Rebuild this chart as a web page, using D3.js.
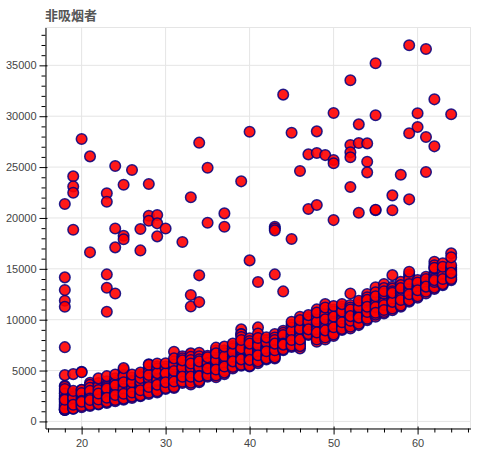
<!DOCTYPE html>
<html>
<head>
<meta charset="utf-8">
<script src="https://cdn.jsdelivr.net/npm/d3@7/dist/d3.min.js"></script>
<style>
html,body{margin:0;padding:0;background:#fff}
svg{display:block}
</style>
</head>
<body>
<svg id="chart" width="500" height="450"></svg>
<script>
const chartTitle = "非吸烟者";
const xTicks = [20, 30, 40, 50, 60];
const yTicks = [0, 5000, 10000, 15000, 20000, 25000, 30000, 35000];
const xMinorTicks = [16,18,22,24,26,28,32,34,36,38,42,44,46,48,52,54,56,58,62,64,66];
const yMinorTicks = [1000,2000,3000,4000,6000,7000,8000,9000,11000,12000,13000,14000,16000,17000,18000,19000,21000,22000,23000,24000,26000,27000,28000,29000,31000,32000,33000,34000,36000,37000,38000];

const bandAges = [18,19,20,21,22,23,24,25,26,27,28,29,30,31,32,33,34,35,36,37,38,39,40,41,42,43,44,45,46,47,48,49,50,51,52,53,54,55,56,57,58,59,60,61,62,63,64];
const bandCharges = [
 [1120,1135,1150,1190,1250,1310,1400,1480,1720,1880,2020,2130,2200,2390,2560,2730,2800,3000,3190,3400,3500,1600,2260],
 [1240,1260,1340,1450,1640,1800,1980,2130,2300,2450,2800,3000,1670,2660],
 [1390,1520,1640,1800,2020,2250,2460,2690,2800,3080,3100,1940],
 [1520,1620,1710,1910,2250,2450,2590,2800,3020,3600,3800,2100,3310],
 [1660,1730,1900,2060,2160,2400,2480,2690,3090,3460,3780,2750,4230],
 [1810,1920,2030,2150,2330,2500,2790,2900,3230,3390,3950,4450,3080,3570],
 [1980,2100,2190,2300,2600,2780,2900,3200,3550,3800,4000,4620,2430,4230],
 [2140,2240,2380,2500,2720,2900,3390,3600,3850,4440,4570,5240,3180,4170,5050],
 [2300,2440,2530,2700,2850,3000,3380,3550,3840,4000,4310,4600,3250],
 [2480,2560,2710,2900,3060,3280,3560,3750,4260,4440,4620,4800,3900],
 [2690,2820,2990,3150,3380,3560,3780,4120,4570,4850,5320,5570,4230,5610],
 [2850,2960,3200,3420,3600,3950,4240,4420,4750,5200,5420,5700,4070],
 [3200,3280,3480,3620,3850,4000,4250,4350,4730,5150,5400,5720,4660],
 [3280,3390,3560,3700,3920,4150,4450,4700,4950,5600,5900,6200,4230,5380,6850],
 [3780,3900,4050,4220,4400,4600,4760,5100,5300,5500,5800,6000,6200,6400],
 [3630,3800,4070,4220,4400,4760,4890,5150,5270,5400,5500,5700,6350,6600,4560,6030,6690],
 [3850,3980,4130,4300,4430,4720,4900,5100,5300,5480,5650,5900,6100,6400,6750,4490],
 [4400,4520,4800,5000,5200,5350,5480,5630,5750,5900,6100,6300,6450,4720],
 [4350,4520,4650,4900,5100,5300,5650,5800,6000,6200,6400,6700,7000,5480,6800,7250],
 [4650,4800,5000,5200,5400,5700,5800,6100,6400,6700,7000,7350,6200,6950],
 [5200,5350,5450,5700,5900,6100,6350,6600,6800,7100,7400,7650,7180],
 [5470,5580,5750,5900,6100,6300,6500,6800,7000,7450,7700,8000,8300,8600,9050,7180,8560],
 [5400,5480,5600,5900,6050,6200,6350,6600,6900,7100,7300,7650,7900,8160,6530],
 [5730,5900,6100,6300,6500,6700,6900,7200,7450,7700,7900,8200,8650,9240,6950],
 [6100,6200,6400,6600,6900,7150,7300,7500,7750,7950,8050,8260,7100],
 [6190,6300,6500,6800,7000,7200,7400,7700,8000,8250,8580,7650],
 [7010,7100,7300,7450,7650,7800,8000,8200,8500,8700,8910,7550],
 [7330,7450,7600,7800,8000,8250,8500,8700,8900,9200,9500,9790,8300],
 [7180,7400,7550,7800,8050,8300,8550,8800,9100,9400,9700,9960,10290,8900],
 [8490,8600,8750,8900,9050,9200,9400,9600,9800,10050,10250,10450,9100],
 [7830,8050,8300,8500,8750,9000,9250,9500,9800,10100,10400,10700,11010,9680],
 [8060,8250,8450,8700,8950,9200,9500,9800,10050,10500,10900,11200,11530,10280],
 [8390,8550,8750,9000,9250,9450,9800,10000,10300,10800,11000,11340,9620,10620],
 [8980,9100,9300,9500,9750,10000,10200,10500,10800,11050,11300,11530,9370],
 [9140,9300,9500,9700,9900,10100,10600,10800,11000,11200,11440,10350],
 [9470,9600,9800,10000,10200,10450,10700,11000,11200,11450,11650,11860,10300],
 [9960,10100,10350,10550,10750,10950,11500,11700,11950,12200,12520,11270,10280],
 [10290,10500,10750,11000,11250,11500,11750,12000,12300,12700,13180,10680],
 [10620,10750,10950,11200,11450,11700,11950,12250,12800,13100,13500,10950,12580],
 [10940,11100,11300,11550,11750,12000,12250,12450,12800,13050,13240,12640,11860],
 [11270,11400,11600,11800,12100,12300,12600,12850,13100,13400,13730,11930],
 [11760,11900,12050,12200,12500,12750,13000,13250,13500,14000,14300,14710,12320,14450],
 [12150,12300,12500,12700,12900,13050,13250,13450,13650,13890,13240],
 [12580,12750,12900,13050,13250,13450,13650,13800,14000,13240,14220],
 [13010,13150,13300,13500,13700,14050,14300,14550,15100,15350,15690,13890,15040],
 [13400,13500,13650,13800,14000,14300,14700,14950,15200,15540,14550],
 [13890,14000,14150,14350,14600,14750,14900,15100,15350,16520,14450,16130]
];

const outlierAges = [20,21,18,19,19,19,23,23,24,25,26,28,28,28,29,29,33,34,35,39,40,37,37,35,30,27,24,19,25,25,24,27,29,21,32,40,18,18,18,18,18,18,23,23,24,23,33,33,34,34,19,20,20,44,50,52,55,59,61,62,60,64,55,53,60,59,61,62,45,48,47,48,49,50,50,52,52,52,53,54,54,54,46,58,61,52,57,59,47,48,50,53,55,55,57,43,43,43,45,43,41,44,52,57];
const outlierCharges = [27760,26050,21370,24090,23100,22480,22420,21600,25100,23270,24710,23330,20220,19730,20290,19470,22030,27400,24940,23600,28480,20450,19130,19530,18970,18910,18970,18840,18250,17900,17110,16810,18190,16620,17630,15830,14160,12910,11860,11270,7300,4550,14450,13140,12580,10780,12420,11300,11730,14360,4650,4880,4830,32120,30320,33530,35200,36970,36610,31660,30290,30190,30090,29200,28940,28320,27960,27040,28380,28510,26250,26380,26180,25690,25370,27170,26450,25960,27370,27330,25530,24480,24610,24250,24510,23040,22220,21830,20880,21270,19790,20510,20750,20800,20750,19130,18970,18780,17930,14450,13700,12780,12580,14380];

// The source draws rows in dataset order, so neighbours overlap in no sorted way:
// a fixed stride through each list mixes the layers.
const bandPoints = bandAges.flatMap((age, i) => bandCharges[i]
  .map((charge, j) => ({age, charge, layer: (j * 5) % 7 + j / 100}))
  .sort((a, b) => a.layer - b.layer));
const outlierPoints = outlierAges.map((age, i) => ({age, charge: outlierCharges[i]}));
const points = bandPoints.concat(outlierPoints);

const frame = {left: 45.5, right: 470.5, top: 27.5, bottom: 428.5};
const x = d3.scaleLinear().domain([15.7, 66.3]).range([frame.left, frame.right]);
const y = d3.scaleLinear().domain([-695, 38720]).range([frame.bottom, frame.top]);

const svg = d3.select("#chart");
const gridColor = "#e5e5e5";

// frame outline and grid
svg.append("rect").attr("x", frame.left).attr("y", frame.top)
  .attr("width", frame.right - frame.left).attr("height", frame.bottom - frame.top)
  .attr("fill", "none").attr("stroke", gridColor);
svg.append("g").selectAll("line").data(xTicks).join("line")
  .attr("x1", d => x(d)).attr("x2", d => x(d))
  .attr("y1", frame.top).attr("y2", frame.bottom)
  .attr("stroke", gridColor);
svg.append("g").selectAll("line").data(yTicks).join("line")
  .attr("x1", frame.left).attr("x2", frame.right)
  .attr("y1", d => y(d)).attr("y2", d => y(d))
  .attr("stroke", gridColor);

// points
svg.append("g").selectAll("circle").data(points).join("circle")
  .attr("cx", d => x(d.age))
  .attr("cy", d => y(d.charge))
  .attr("r", 5.3)
  .attr("fill", "red").attr("fill-opacity", 0.9)
  .attr("stroke", "navy").attr("stroke-opacity", 0.85).attr("stroke-width", 1.5);

// axes
function styleAxis(g) {
  g.select(".domain").attr("stroke", "#000");
  g.selectAll(".tick line").attr("stroke", "#000");
  g.selectAll(".tick text")
    .attr("fill", "#444")
    .style("font", "11px 'Liberation Sans', Arial, sans-serif");
}
const xAxis = svg.append("g").attr("transform", `translate(0,${frame.bottom})`);
xAxis.call(d3.axisBottom(x).tickValues(xMinorTicks).tickSize(4).tickSizeOuter(0).tickFormat(""));
xAxis.call(styleAxis);
const xMajor = svg.append("g").attr("transform", `translate(0,${frame.bottom})`);
xMajor.call(d3.axisBottom(x).tickValues(xTicks).tickSize(6).tickSizeOuter(0).tickPadding(5).tickFormat(d3.format("d")));
xMajor.call(styleAxis);
xMajor.select(".domain").remove();
xMajor.selectAll(".tick line").attr("y1", -2);

const yAxis = svg.append("g").attr("transform", `translate(${frame.left},0)`);
yAxis.call(d3.axisLeft(y).tickValues(yMinorTicks).tickSize(4).tickSizeOuter(0).tickFormat(""));
yAxis.call(styleAxis);
const yMajor = svg.append("g").attr("transform", `translate(${frame.left},0)`);
yMajor.call(d3.axisLeft(y).tickValues(yTicks).tickSize(6).tickSizeOuter(0).tickPadding(3).tickFormat(d3.format("d")));
yMajor.call(styleAxis);
yMajor.select(".domain").remove();
yMajor.selectAll(".tick line").attr("x1", 2);

// title
svg.append("text").attr("x", 45).attr("y", 20)
  .attr("fill", "#555")
  .style("font", "bold 13px 'Noto Sans CJK SC', sans-serif")
  .text(chartTitle);
</script>
</body>
</html>
